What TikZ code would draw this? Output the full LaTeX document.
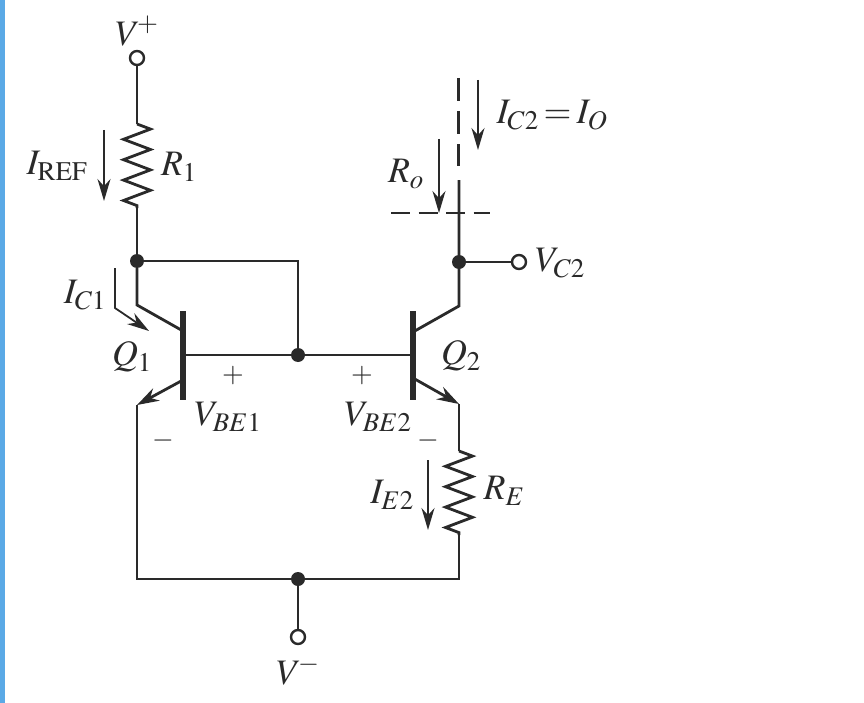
\documentclass[tikz,border=0pt]{standalone}
\usepackage{mathptmx}
\usetikzlibrary{arrows.meta,decorations.pathmorphing}
\DeclareMathSizes{36}{36}{27}{20}
\definecolor{stripblue}{HTML}{5AA9E6}
\definecolor{inkgray}{HTML}{2A2A2A}
\tikzset{
  wire/.style={draw=inkgray,line width=2.8bp,line join=miter},
  bar/.style={draw=inkgray,line width=5.5bp},
  thinline/.style={draw=inkgray,line width=1.8bp},
  curarrow/.style={thinline,-{Stealth[length=22bp,width=13bp]}},
  emitarrow/.style={wire,-{Stealth[length=22bp,width=14bp]}},
  dashline/.style={draw=inkgray},
  res/.style={wire,decorate,decoration={zigzag,segment length=20.4bp,amplitude=13.5bp}},
  dotnode/.style={circle,fill=inkgray,draw=none,inner sep=0pt,minimum size=14bp},
  termnode/.style={circle,fill=white,draw=inkgray,line width=2.4bp,inner sep=0pt,minimum size=14bp},
  lbl/.style={text=inkgray,inner sep=0pt,font=\fontsize{36}{40}\selectfont},
  signlbl/.style={lbl,font=\fontsize{28}{30}\selectfont},
}
\begin{document}
\begin{tikzpicture}[x=1bp,y=-1bp]
%%
\useasboundingbox (0,0) rectangle (864,703);
\fill [stripblue] (0,0) rectangle (5,703);
% junctions and terminals
\node (node_vp) at (137,58) [termnode] {};
\node (node_vm) at (298,637) [termnode] {};
\node (node_vc2) at (519,262) [termnode] {};
\node (node_c1) at (137,261) [dotnode] {};
\node (node_b) at (298,355) [dotnode] {};
\node (node_c2) at (459,262) [dotnode] {};
\node (node_g) at (298,579) [dotnode] {};
\coordinate (r1_top) at (137,124);
\coordinate (r1_bot) at (137,208);
\coordinate (re_top) at (459,451);
\coordinate (re_bot) at (459,535);
\coordinate (q1_ctop) at (183,311);
\coordinate (q1_cbot) at (183,400);
\coordinate (q2_ctop) at (413,311);
\coordinate (q2_cbot) at (413,400);
\coordinate (q1_base) at (183,355);
\coordinate (q2_base) at (413,355);
\coordinate (q1_c) at (183,331);
\coordinate (q1_e) at (183,380);
\coordinate (q2_c) at (413,332);
\coordinate (q2_e) at (413,378);
\coordinate (q1_ck) at (137,305);
\coordinate (q1_ek) at (137,405);
\coordinate (q2_ck) at (459,306);
\coordinate (q2_ek) at (459,404);
\coordinate (bl) at (137,579);
\coordinate (br) at (459,579);
\coordinate (tr) at (298,261);
\coordinate (out_top) at (459,180);
\coordinate (out_dash) at (458.5,78);
\coordinate (out_dashend) at (458.5,166);
\coordinate (cut_l) at (391,213);
\coordinate (cut_r) at (490,213);
% wires
\draw [wire] (node_vp) -- (r1_top);
\draw [res] (r1_top) -- (r1_bot);
\draw [wire] (r1_bot) -- (node_c1);
\draw [wire] (node_c1) -- (q1_ck) -- (q1_c);
\draw [wire] (node_c1) -- (tr) -- (node_b);
\draw [wire] (q1_base) -- (q2_base);
\draw [bar] (q1_ctop) -- (q1_cbot);
\draw [bar] (q2_ctop) -- (q2_cbot);
\draw [emitarrow] (q1_e) -- (q1_ek);
\draw [wire] (q1_ek) -- (bl) -- (br) -- (re_bot);
\draw [res] (re_top) -- (re_bot);
\draw [emitarrow] (q2_e) -- (q2_ek);
\draw [wire] (q2_ek) -- (re_top);
\draw [wire] (q2_c) -- (q2_ck) -- (out_top);
\draw [wire] (node_c2) -- (node_vc2);
\draw [wire] (node_g) -- (node_vm);
\draw [dashline,line width=3bp,dash pattern=on 23bp off 10bp] (out_dash) -- (out_dashend);
\draw [dashline,line width=1.8bp,dash pattern=on 19bp off 8.5bp] (cut_l) -- (cut_r);
% current arrows
\coordinate (a_ref1) at (104,130);
\coordinate (a_ref2) at (104,201);
\coordinate (a_c1a) at (115,268);
\coordinate (a_c1b) at (115,308);
\coordinate (a_c1c) at (149,331);
\coordinate (a_e1) at (428,460);
\coordinate (a_e2) at (428,530);
\coordinate (a_o1) at (478,80);
\coordinate (a_o2) at (478,150);
\coordinate (a_r1) at (439,139);
\coordinate (a_r2) at (439,213);
\draw [curarrow] (a_ref1) -- (a_ref2);
\draw [curarrow] (a_c1a) -- (a_c1b) -- (a_c1c);
\draw [curarrow] (a_e1) -- (a_e2);
\draw [curarrow] (a_o1) -- (a_o2);
\draw [curarrow] (a_r1) -- (a_r2);
% labels
\node (l_vp) at (137,31) [lbl] {$V^{\!+}$};
\node (l_vm) at (298,670) [lbl] {$V^{\!-}$};
\node (l_iref) at (57,166) [lbl] {$I_{\mathrm{REF}}$};
\node (l_r1) at (179,167) [lbl] {$R_{1}$};
\node (l_ic1) at (85,295) [lbl] {$I_{C1}$};
\node (l_q1) at (132,357) [lbl] {$Q_{1}$};
\node (l_vbe1) at (228,417) [lbl] {$V_{BE1}$};
\node (l_vbe2) at (378,417) [lbl] {$V_{BE2}$};
\node (l_q2) at (461,356) [lbl] {$Q_{2}$};
\node (l_ie2) at (392,495) [lbl] {$I_{E2}$};
\node (l_re) at (504,491) [lbl] {$R_{E}$};
\node (l_ro) at (406,174) [lbl] {$R_{o}$};
\node (l_ic2) at (552,115) [lbl] {$I_{C2}\:{=}\:I_{O}$};
\node (l_vc2) at (560,263) [lbl] {$V_{C2}$};
\node (l_p1) at (233,376) [signlbl] {$+$};
\node (l_p2) at (362,376) [signlbl] {$+$};
\node (l_m1) at (163,441) [signlbl] {$-$};
\node (l_m2) at (428,441) [signlbl] {$-$};
%
\end{tikzpicture}
\end{document}
